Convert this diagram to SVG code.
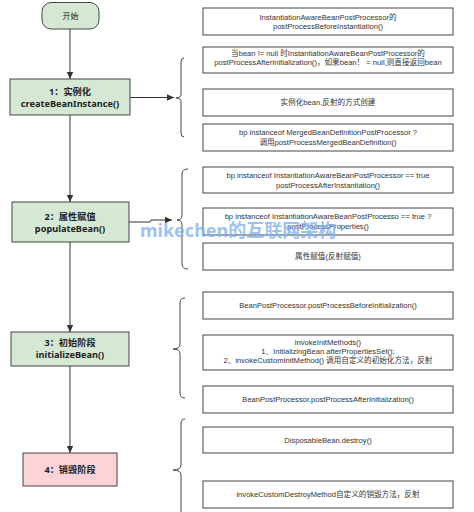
<svg xmlns="http://www.w3.org/2000/svg" width="474" height="512" viewBox="0 0 474 512">
<defs>
<marker id="arr" markerWidth="8" markerHeight="8" refX="7" refY="4" orient="auto" markerUnits="userSpaceOnUse">
<path d="M0,0.8 L7,4 L0,7.2 Z" fill="#333"/>
</marker>
<style>
.node{stroke:#444;stroke-width:1}
.green{fill:#d5e8d4}
.pink{fill:#fdd3d8}
.ntxt{font-family:"Noto Sans","Noto Sans CJK SC",sans-serif;font-size:9.2px;font-weight:bold;fill:#222;text-anchor:middle}
.box{fill:#fff;stroke:#444;stroke-width:1}
.btxt{font-family:"Liberation Sans","Noto Sans CJK SC",sans-serif;font-size:7.6px;fill:#333;text-anchor:middle}
.conn{fill:none;stroke:#333;stroke-width:1}
.brace{fill:none;stroke:#444;stroke-width:1}
.wm{font-family:"Noto Sans","Noto Sans CJK SC",sans-serif;font-size:18px;font-weight:bold;fill:#7fb2f0;fill-opacity:0.8}
</style>
</defs>
<rect width="474" height="512" fill="#fff"/>

<g id="connectors">
<path class="conn" d="M70 29 V79" marker-end="url(#arr)"/>
<path class="conn" d="M70 115 V202" marker-end="url(#arr)"/>
<path class="conn" d="M70 242 V332" marker-end="url(#arr)"/>
<path class="conn" d="M70 366 V453" marker-end="url(#arr)"/>
<path class="conn" d="M130 97.5 H174" marker-end="url(#arr)"/>
<path class="conn" d="M129 222 H150 L151 220 H172" marker-end="url(#arr)"/>
</g>

<g id="braces">
<path class="brace" d="M184 58 Q181 58 181 62 L181 94 Q181 98 176 98 Q181 98 181 102 L181 133 Q181 137 184 137"/>
<path class="brace" d="M188 169 Q182 169 182 174 L182 215 Q182 220 177 220 Q182 220 182 225 L182 264 Q182 269 188 269"/>
<path class="brace" d="M185 298 Q180 298 180 303 L180 344 Q180 349 173 349 Q180 349 180 354 L180 393 Q180 398 185 398"/>
<path class="brace" d="M185 419 Q181 419 181 424 L181 465 Q181 470 173 470 Q181 470 181 475 L181 520"/>
</g>

<g id="start">
<rect class="node green" x="42" y="2.5" width="57" height="26.5" rx="9" ry="9"/>
<text class="ntxt" x="70.5" y="19" style="font-weight:normal;font-size:8px">开始</text>
</g>

<g id="node1">
<rect class="node green" x="10" y="79" width="120" height="36"/>
<text class="ntxt" x="70" y="95">1：实例化</text>
<text class="ntxt" x="70" y="107">createBeanInstance()</text>
</g>

<g id="node2">
<rect class="node green" x="12" y="202" width="117" height="40"/>
<text class="ntxt" x="70" y="219.5">2：属性赋值</text>
<text class="ntxt" x="70" y="231.5">populateBean()</text>
</g>

<g id="node3">
<rect class="node green" x="11" y="332" width="118" height="34"/>
<text class="ntxt" x="70" y="346">3：初始阶段</text>
<text class="ntxt" x="70" y="358">initializeBean()</text>
</g>

<g id="node4">
<rect class="node pink" x="23" y="453" width="94" height="33"/>
<text class="ntxt" x="70" y="473">4：销毁阶段</text>
</g>

<g id="box1">
<rect class="box" x="203" y="8" width="250" height="27"/>
<text class="btxt" x="328" y="19.5">InstantiationAwareBeanPostProcessor的</text>
<text class="btxt" x="328" y="29">postProcessBeforeInstantiation()</text>
</g>
<g id="box2">
<rect class="box" x="203" y="47" width="250" height="26"/>
<text class="btxt" x="328" y="55.5">当bean != null 时InstantiationAwareBeanPostProcessor的</text>
<text class="btxt" x="328" y="64.5">postProcessAfterInitialization()，如果bean！ = null,则直接返回bean</text>
</g>
<g id="box3">
<rect class="box" x="203" y="89" width="250" height="27"/>
<text class="btxt" x="328" y="105">实例化bean,反射的方式创建</text>
</g>
<g id="box4">
<rect class="box" x="203" y="124" width="250" height="27"/>
<text class="btxt" x="328" y="135">bp instanceof MergedBeanDefinitionPostProcessor ?</text>
<text class="btxt" x="328" y="144.5">调用postProcessMergedBeanDefinition()</text>
</g>
<g id="box5">
<rect class="box" x="203" y="167" width="250" height="26"/>
<text class="btxt" x="328" y="178">bp instanceof InstantiationAwareBeanPostProcessor == true</text>
<text class="btxt" x="328" y="187.5">postProcessAfterInstantiation()</text>
</g>
<g id="box6">
<rect class="box" x="203" y="208" width="250" height="27"/>
<text class="btxt" x="328" y="219">bp instanceof InstantiationAwareBeanPostProcesso == true ?</text>
<text class="btxt" x="328" y="228.5">postProcessProperties()</text>
</g>
<g id="box7">
<rect class="box" x="203" y="243" width="250" height="27"/>
<text class="btxt" x="328" y="259">属性赋值(反射赋值)</text>
</g>
<g id="box8">
<rect class="box" x="203" y="292" width="250" height="27"/>
<text class="btxt" x="328" y="308">BeanPostProcessor.postProcessBeforeInitialization()</text>
</g>
<g id="box9">
<rect class="box" x="203" y="335" width="250" height="35"/>
<text class="btxt" x="328" y="345">invokeInitMethods()</text>
<text class="btxt" x="328" y="354">1、InitializingBean.afterPropertiesSet();</text>
<text class="btxt" x="328" y="363">2、invokeCustomInitMethod() 调用自定义的初始化方法，反射</text>
</g>
<g id="box10">
<rect class="box" x="203" y="386" width="250" height="27"/>
<text class="btxt" x="328" y="402">BeanPostProcessor.postProcessAfterInitialization()</text>
</g>
<g id="box11">
<rect class="box" x="203" y="427" width="250" height="26"/>
<text class="btxt" x="328" y="443">DisposableBean.destroy()</text>
</g>
<g id="box12">
<rect class="box" x="203" y="481" width="250" height="27"/>
<text class="btxt" x="328" y="497">invokeCustomDestroyMethod自定义的销毁方法，反射</text>
</g>

<text class="wm" x="140" y="237">mikechen的互联网架构</text>
</svg>
